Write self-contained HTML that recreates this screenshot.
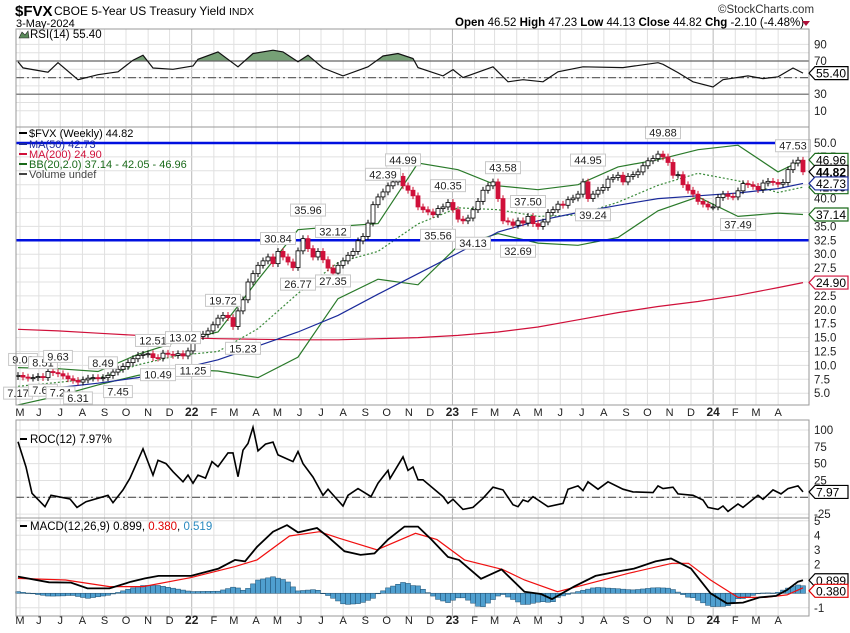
<!DOCTYPE html>
<html><head><meta charset="utf-8"><title>$FVX weekly chart</title>
<style>
html,body{margin:0;padding:0;background:#fff;}
svg{display:block;font-family:"Liberation Sans",Arial,sans-serif;}
</style></head>
<body>
<svg id="chart" width="850" height="633" viewBox="0 0 850 633" xmlns="http://www.w3.org/2000/svg">
<rect x="0" y="0" width="850" height="633" fill="#fff"/>
<g>
<text x="15" y="16" font-size="15" font-weight="bold" fill="#000">$FVX</text>
<text x="54" y="15" font-size="12" fill="#000">CBOE 5-Year US Treasury Yield <tspan font-size="10.5">INDX</tspan></text>
<text x="16" y="27" font-size="11" fill="#000">3-May-2024</text>
<text x="718" y="13" font-size="11.5" fill="#333">©StockCharts.com</text>
<text x="455" y="26" font-size="11.5" fill="#000"><tspan font-weight="bold">Open</tspan> 46.52  <tspan font-weight="bold">High</tspan> 47.23  <tspan font-weight="bold">Low</tspan> 44.13  <tspan font-weight="bold">Close</tspan> 44.82  <tspan font-weight="bold">Chg</tspan> -2.10 (-4.48%)</text>
<polygon points="802,21 810,21 806,26" fill="#b0103a"/>
</g>
<g id="grid"></g>
<g id="marks"></g>
<g id="frames"></g>
<g id="axes"></g>
</svg>
<script>
// ===== data =====
const closes = [
8.2,7.9,7.7,7.8, 8.0,7.8,8.9,8.7, 8.5,8.1,7.6,7.3,7.0, 7.4,7.7,7.8,7.7, 7.8,8.2,8.8,9.3, 9.8,10.5,11.2,11.8,12.0, 12.1,11.4,11.3,12.2, 12.0,11.8,12.1,11.7,12.6,
14.5,15.2,15.6,16.2, 17.3,18.5,19.0,18.6, 17.0,19.8,21.8,25.0, 26.5,28.0,28.8,29.5,28.3, 30.5,29.5,28.6,27.6, 30.6,32.8,31.0,29.5, 30.5,29.0,27.5,26.6,28.0, 28.8,29.8,30.5,32.4, 33.2,35.6,38.9,40.3,41.2, 42.3,43.0,44.0,42.3, 41.5,40.5,38.5,38.0, 37.6,37.1,38.2,38.5,39.3,
38.0,36.3,36.0,36.5, 38.0,39.5,41.5,42.3, 43.0,40.0,36.0,35.8,35.2, 36.0,35.6,36.8,35.5, 35.0,35.8,37.5,38.0, 39.0,38.8,39.8,40.1,40.8, 43.0,40.0,40.8,41.5, 42.0,43.5,43.8,44.2, 43.0,44.0,44.3,44.8,45.9, 46.8,47.2,48.0,47.5, 46.5,44.2,44.3,42.5, 41.5,40.8,39.5,39.0,38.5,
38.5,40.2,40.8,40.4,40.3, 41.4,42.7,42.5,42.2, 41.6,42.8,43.1,42.9,42.6, 42.9,45.2,46.4,46.9, 44.82];
const firstOpen = 8.0;

const stepWeeks = [0,8,16,24,32,40,48,56,64,72,80,88,96,104,112,120,128,136,144,152,157];
const ma50  = [5.2,6.0,6.8,7.8,9.3,11.0,13.5,16.0,19.0,22.8,26.5,30.2,34.0,36.0,37.5,38.8,40.0,40.5,41.0,41.8,42.73];
const ma200 = [16.5,16.2,15.8,15.4,15.0,14.8,14.7,14.6,14.6,14.8,15.0,15.4,16.0,16.9,18.2,19.5,20.6,21.5,22.6,24.0,24.90];
const bbUpper = [9.6,9.4,8.9,12.0,14.3,16.0,25.4,34.4,35.0,35.5,46.4,45.2,42.3,41.6,42.5,45.7,47.0,48.8,49.6,44.8,46.96];
const bbLower = [2.9,4.5,6.5,8.2,9.3,9.0,7.8,11.5,22.0,25.5,24.5,31.5,33.7,32.0,31.6,33.0,37.8,40.3,36.8,37.4,37.14];

const rsiWeeks = [0,1,6,8,12,16,20,23,25,27,31,35,36,40,44,47,51,53,56,58,61,65,70,73,76,79,80,85,87,89,95,98,101,105,108,113,121,128,129,132,135,139,141,146,149,152,155,157];
const rsiValues = [69,61.7,56.5,68,47.5,53.5,57,71,77,61.6,60,64,72,81,63,79,83,81,69,77,61.6,52,63,76,79,73,62,52,59.6,50,63,45,47.5,45,57,63,62,68,66,56,45,38.7,47.5,52,48.8,51,61.6,55.4];

const rocWeeks = [0,1.6,2.8,5.4,6.6,10.4,11.8,13.6,18,19,21,22.4,25,27,28,29.6,31,33,34,35,36,37.5,38.8,40,42,43,44,45,46,47,48,49.5,51,52,55,56,57,59,61,62,65,66,68,70.6,72,74,74.4,77,78,79,80,81,85,86,87,89,91,93,95,97,99,100,101,102,103,106,109,110,112,113,114,116,118,121,123,127,128,129,131,132,135,137,138,140,141,142,144,145,148,149,151,152.6,154,156,157];
const rocValues = [82.6,45,6,-14,3,-2.5,-15,-6.5,3,-8,11,28.5,72,33,55,50,38,23,33,21,33,28.5,53,45.5,66,66,30.6,70,80,104,69,79,82,63,53,68,50,30,3,12,-13,3,13,1,21,40,28,60,40,45,26,26,1,-9,-3,-18,-15,-1.5,15,11,-11,-14,-4,-6.5,1,-14,-9,12,17,10,23,12,23,12,8,7,17,13,15,5,3,-4,-15,-18,-13,-21,-10,-15,3,-3,11,5,13,17,7.97];

const macdWeeks = [0,6.2,10.6,13.9,18.3,22.6,25.4,28.1,34.6,40.1,43.4,45.4,47.8,51,53.8,56,59.8,62,65.3,68.5,71.3,74,77.3,80,82.7,86,88.2,92.6,96.7,101.3,104.6,106.8,111.2,115.5,119.9,123.2,127.5,130.6,134.6,138.5,141.8,145,148.3,151.6,153.8,156,157];
const macdValues = [1.15,0.76,0.74,0.34,0.34,0.8,1.03,1.2,1.2,1.7,2.3,2.2,3.2,4.25,4.7,4.2,4.5,3.9,2.9,2.65,2.75,3.7,4.6,4.6,3.7,2.5,2.3,1.0,1.65,0.1,-0.05,-0.4,0.46,1.2,1.5,1.7,2.2,2.4,1.7,0,-0.7,-0.64,-0.28,-0.18,0.23,0.8,0.899];
const signalWeeks = [0,9.5,18.3,25,34.6,43.4,47.8,54.3,60.3,64.2,71.8,79.5,83.8,89.3,96.9,101.3,107.9,114.4,122.1,130.8,134.1,138.5,144,149.4,153.8,157];
const signalValues = [1.03,0.92,0.46,0.46,1.08,1.84,2.3,3.95,4.25,3.8,3.0,4.14,3.7,2.3,1.65,0.92,0.11,0.69,1.38,2.07,2.07,0.92,-0.28,-0.28,-0.11,0.38];

const annWeeks  = [1,0,5,5,8,8.5,12,17,20,27,28,33,35,41,45,52,56,58,63,63,73,77,86,84,97,91,102,100,114,115,129,144,155];
const annValues = [9.09,7.17,8.51,7.69,9.63,7.24,6.31,8.49,7.45,12.51,10.49,13.02,11.25,19.72,15.23,30.84,26.77,35.96,32.12,27.35,42.39,44.99,40.35,35.56,43.58,34.13,37.50,32.69,44.95,39.24,49.88,37.49,47.53];
const annAbove  = [1,0,1,0,1,0,0,1,0,1,0,1,0,1,0,1,0,1,1,0,1,1,1,0,1,0,1,0,1,0,1,0,1];

const priceTicks = [50,47.5,40,35,32.5,30,27.5,22.5,20,17.5,15,12.5,10,7.5,5];
const priceGrid = [50,47.5,45,42.5,40,37.5,35,32.5,30,27.5,25,22.5,20,17.5,15,12.5,10,7.5,5];
const rsiTicks = [90,70,30,10];
const rsiGrid = [90,80,70,60,50,40,30,20,10];
const rocTicks = [100,75,50,25,-25];
const rocGrid = [100,75,50,25,0,-25];
const macdTicks = [5,4,3,2,0,-1];
const macdGrid = [5,4,3,2,1,0,-1];
const monthLetters = ["J","F","M","A","M","J","J","A","S","O","N","D"];

// ===== layout =====
const NS = "http://www.w3.org/2000/svg";
const L = 16, R = 809;
const P = {rsi:[29,127], main:[127,405], roc:[420,518], macd:[518,616]};
const xw = w => 18 + w * 5.0;
const yMain = v => 143 + (50 - v) * 5.56;
const yRsi = v => 61 + (70 - v) * 0.83;
const yRoc = v => 497.3 - v * 0.673;
const yMacd = v => 593.3 - v * 14.5;

function el(tag, attrs, parent){ const e=document.createElementNS(NS,tag); for(const k in attrs) e.setAttribute(k,attrs[k]); parent.appendChild(e); return e; }
function interp(ws, vs, w){
  if (w<=ws[0]) return vs[0];
  for (let i=1;i<ws.length;i++) if (w<=ws[i]){ const t=(w-ws[i-1])/(ws[i]-ws[i-1]); return vs[i-1]+t*(vs[i]-vs[i-1]); }
  return vs[vs.length-1];
}
function pathFrom(ws, vs, ys){ return ws.map((w,i)=>(i?'L':'M')+xw(w).toFixed(1)+','+ys(vs[i]).toFixed(1)).join(''); }

const grid = document.getElementById('grid');
const marks = document.getElementById('marks');
const frames = document.getElementById('frames');
const axes = document.getElementById('axes');

// month grid + labels
const start = new Date(2021,4,7);
const monthX = [];
for (let y=2021,m=4; y<2024 || (y===2024 && m<=3); ){
  const d = new Date(y,m,1);
  const w = (d - start)/(7*86400000);
  monthX.push({x: Math.max(xw(w)+3, 20), lab: m===0 ? String(y).slice(2) : monthLetters[m], year: m===0});
  m++; if (m>11){m=0;y++;}
}
for (const p of [P.rsi,P.main,P.roc,P.macd]){
  for (const mx of monthX){
    const ln = el('line',{x1:mx.x,x2:mx.x,y1:p[0],y2:p[1],stroke:mx.year?'#b8b8b8':'#e0e0e0','stroke-width':1},grid);
    
    
  }
}
for (const ly of [412,620]){
  for (const mx of monthX){
    const t = el('text',{x:mx.x,y:ly+4,'font-size':mx.year?12:11,'font-weight':mx.year?'bold':'normal','text-anchor':'middle',fill:'#222'},axes);
    t.textContent = mx.lab;
    
    
  }
}
function hgrid(vals, ys, name){
  for (const v of vals){
    const ln = el('line',{x1:L,x2:R,y1:ys(v),y2:ys(v),stroke:'#e0e0e0','stroke-width':1},grid);
    
    
  }
}
hgrid(priceGrid,yMain,'price-gridline'); hgrid(rsiGrid,yRsi,'rsi-gridline'); hgrid(rocGrid,yRoc,'roc-gridline'); hgrid(macdGrid,yMacd,'macd-gridline');

function ticks(vals, ys, fmt, name){
  for (const v of vals){
    const t = el('text',{x:814,y:ys(v)+4,'font-size':11.5,fill:'#222'},axes);
    t.textContent = fmt(v);
    
    
  }
}
ticks(priceTicks,yMain,v=>v.toFixed(1),'price-tick-label');
ticks(rsiTicks,yRsi,v=>String(v),'rsi-tick-label');
ticks(rocTicks,yRoc,v=>String(v),'roc-tick-label');
ticks(macdTicks,yMacd,v=>String(v),'macd-tick-label');

// ===== RSI panel =====
const rsiPath = pathFrom(rsiWeeks,rsiValues,yRsi);
const clip = el('clipPath',{id:'rsiClip'},marks);
el('rect',{x:L,y:P.rsi[0],width:R-L,height:yRsi(70)-P.rsi[0]},clip);
const rsiFill = el('path',{d:rsiPath+'L'+xw(157)+','+yRsi(70)+'L'+xw(0)+','+yRsi(70)+'Z',fill:'#76a076','clip-path':'url(#rsiClip)'},marks);


for (const [v,dash] of [[70,''],[30,''],[50,'8,3,2,3']]){
  const ln = el('line',{x1:L,x2:R,y1:yRsi(v),y2:yRsi(v),stroke:'#666','stroke-width':1.2,'stroke-dasharray':dash},marks);
  
  
}
const rsiLine = el('path',{d:rsiPath,fill:'none',stroke:'#111','stroke-width':1.2},marks);



// ===== main price panel =====
function sparseLine(vals, color, width, dash, name){
  const p = el('path',{d:pathFrom(stepWeeks,vals,yMain),fill:'none',stroke:color,'stroke-width':width,'stroke-dasharray':dash},marks);
  
  
}
sparseLine(ma200,'#d0103a',1.2,'','ma200-line');
sparseLine(bbUpper,'#2a7a2a',1.2,'','bb-upper-band');
sparseLine(bbLower,'#2a7a2a',1.2,'','bb-lower-band');
const mids = bbUpper.map((u,i)=>(u+bbLower[i])/2);
sparseLine(mids,'#3a8a3a',1.2,'2,2','bb-middle-band');
sparseLine(ma50,'#1a2a9a',1.2,'','ma50-line');
for (const v of [50,32.5]){
  const ln = el('line',{x1:L,x2:R,y1:yMain(v),y2:yMain(v),stroke:'#0010e0','stroke-width':2.5},marks);
  
  
}
closes.forEach((c,i)=>{
  const o = i ? closes[i-1] : firstOpen;
  const x = xw(i);
  const hi = Math.max(o,c)+0.6, lo = Math.min(o,c)-0.6;
  const up = c >= o;
  const g = el('g',{},marks);
  
  
  el('line',{x1:x,x2:x,y1:yMain(hi),y2:yMain(lo),stroke:up?'#000':'#c8102e','stroke-width':1},g);
  const top = yMain(Math.max(o,c)), bot = yMain(Math.min(o,c));
  el('rect',{x:x-2,y:top,width:4,height:Math.max(bot-top,1),fill:up?'#fff':'#d0103a',stroke:up?'#000':'#d0103a','stroke-width':0.8},g);
});
annValues.forEach((v,i)=>{
  const x = xw(annWeeks[i]);
  const above = annAbove[i]===1;
  const yy = above ? yMain(v)-17 : yMain(v)+6;
  const g = el('g',{},marks);
  
  
  const txt = v.toFixed(2);
  const wdt = txt.length*6.2+4;
  el('rect',{x:x-wdt/2,y:yy,width:wdt,height:12,fill:'#fff',stroke:'#c8c8c8','stroke-width':1},g);
  const t = el('text',{x:x,y:yy+10,'font-size':11,'text-anchor':'middle',fill:'#222'},g);
  t.textContent = txt;
});
// legend
const legend = [["$FVX (Weekly) 44.82","#000",137],["MA(50) 42.73","#1a2a9a",148],["MA(200) 24.90","#d0103a",158],["BB(20,2.0) 37.14 - 42.05 - 46.96","#1a6a1a",168],["Volume undef","#444",178]];
legend.forEach(([s,c,y])=>{
  el('line',{x1:19,x2:27,y1:y-4,y2:y-4,stroke:c,'stroke-width':2},axes);
  const t = el('text',{x:29,y:y,'font-size':11,fill:c},axes);
  t.textContent = s;
  
  
});
const rl = el('text',{x:30,y:38,'font-size':11.5,fill:'#000'},axes); rl.textContent='RSI(14) 55.40';
 
el('path',{d:'M19,38 L22,32 L25,35 L28,31 L29,38 Z',fill:'#5a8a5a',stroke:'#222','stroke-width':0.6},axes);

// ===== ROC panel =====
const zl = el('line',{x1:L,x2:R,y1:yRoc(0),y2:yRoc(0),stroke:'#555','stroke-width':1.2,'stroke-dasharray':'8,3,2,3'},marks);
 
const rocLine = el('path',{d:pathFrom(rocWeeks,rocValues,yRoc),fill:'none',stroke:'#000','stroke-width':1.6},marks);
 
el('line',{x1:20,x2:27,y1:439,y2:439,stroke:'#000','stroke-width':2},axes);
const rt = el('text',{x:30,y:443,'font-size':11.5,fill:'#000'},axes); rt.textContent='ROC(12) 7.97%';
 

// ===== MACD panel =====
for (let w=0; w<=157; w++){
  const h = interp(macdWeeks,macdValues,w) - interp(signalWeeks,signalValues,w);
  const y0 = yMacd(0), y1 = yMacd(h);
  const b = el('rect',{x:xw(w)-2.5,y:Math.min(y0,y1),width:5,height:Math.max(Math.abs(y1-y0),0.5),fill:'#4f9fcf',stroke:'#1e4f70','stroke-width':0.5},marks);
  
  
}
const sig = el('path',{d:pathFrom(signalWeeks,signalValues,yMacd),fill:'none',stroke:'#f01010','stroke-width':1.2},marks);
 
const mac = el('path',{d:pathFrom(macdWeeks,macdValues,yMacd),fill:'none',stroke:'#000','stroke-width':1.8},marks);
 
el('line',{x1:20,x2:27,y1:526,y2:526,stroke:'#000','stroke-width':2},axes);
const mt = el('text',{x:30,y:530,'font-size':11.5,fill:'#000'},axes);
mt.innerHTML = 'MACD(12,26,9) 0.899, <tspan fill="#e00000">0.380</tspan>, <tspan fill="#2a8ac0">0.519</tspan>';
 

// ===== frames =====
for (const [k,p] of Object.entries(P)){
  const f = el('rect',{x:L,y:p[0],width:R-L,height:p[1]-p[0],fill:'none',stroke:'#999','stroke-width':1},frames);
  
  
}

// ===== value tags =====
const tags = [
 [yMain(42.05),'42.05','#1a6a1a','normal'],
 [yMain(46.96),'46.96','#1a6a1a','normal'],
 [yMain(44.82),'44.82','#000','bold'],
 [yMain(42.73),'42.73','#1a2a9a','normal'],
 [yMain(37.14),'37.14','#1a6a1a','normal'],
 [yMain(24.90),'24.90','#d0103a','normal'],
 [yRsi(55.40),'55.40','#000','normal'],
 [yRoc(7.97),'7.97','#000','normal'],
 [yMacd(0.899),'0.899','#000','normal'],
 [yMacd(0.380)+3,'0.380','#e00000','normal']
];
for (const [y,s,c,fw] of tags){
  const g = el('g',{},axes);
  
  
  el('polygon',{points:`809,${y} 815,${y-6.5} 848,${y-6.5} 848,${y+6.5} 815,${y+6.5}`,fill:'#fff',stroke:c,'stroke-width':1.2},g);
  const t = el('text',{x:816,y:y+4.5,'font-size':12,'font-weight':fw,fill:'#000'},g);
  t.textContent = s;
}
</script>
</body></html>
